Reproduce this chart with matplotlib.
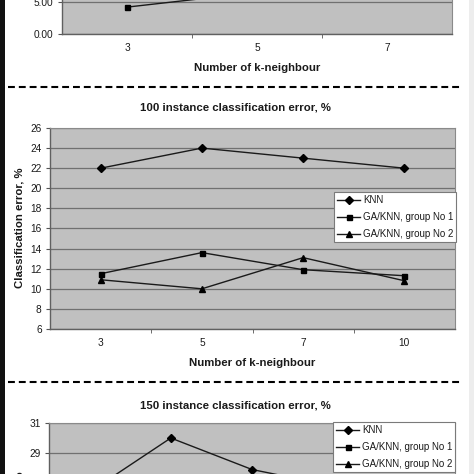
import matplotlib
matplotlib.use('Agg')
import matplotlib.pyplot as plt
from matplotlib.lines import Line2D
from matplotlib.patches import Rectangle

plt.rcParams['font.family'] = ['Liberation Sans', 'DejaVu Sans']

# ---------------- data ----------------
series_names = ['KNN', 'GA/KNN, group No 1', 'GA/KNN, group No 2']

# top (partially visible) chart
top_k = ['3', '5', '7']
top_g1 = [4.2, 6.5, 7.5]
top_yticks = [0, 5, 10, 15]

# middle chart
mid_title = '100 instance classification error, %'
mid_k = ['3', '5', '7', '10']
mid_knn = [22.0, 24.0, 23.0, 22.0]
mid_g1 = [11.5, 13.6, 11.9, 11.3]
mid_g2 = [10.9, 10.0, 13.1, 10.8]
mid_yticks = [6, 8, 10, 12, 14, 16, 18, 20, 22, 24, 26]

# bottom (partially visible) chart
bot_title = '150 instance classification error, %'
bot_k = ['3', '5', '7', '10', '15']
bot_knn = [26.4, 30.0, 27.9, 26.8, 27.0]
bot_g1 = [24.5, 25.0, 24.0, 23.5, 24.0]
bot_g2 = [23.5, 24.0, 25.0, 24.5, 23.0]
bot_yticks = [21, 23, 25, 27, 29, 31]

xlabel = 'Number of k-neighbour'
ylabel = 'Classification error, %'

# ---------------- figure ----------------
W = H = 474
fig = plt.figure(figsize=(W / 100, H / 100), dpi=100)
fig.patch.set_facecolor('white')

BG = '#c0c0c0'
GRID = '#707070'
LINE = '#1a1a1a'
TXT = '#1a1a1a'
markers = ['D', 's', '^']
msizes = [3.8, 3.6, 4.2]


def axes_px(l, t, r, b):
    return fig.add_axes([l / W, 1 - b / H, (r - l) / W, (b - t) / H])


def style(ax, cats, yticks, ylim, fmt=None):
    ax.set_facecolor(BG)
    n = len(cats)
    ax.set_xlim(-0.5, n - 0.5)
    ax.set_ylim(*ylim)
    ax.set_xticks(range(n))
    ax.set_xticklabels(cats)
    ax.set_xticks([i + 0.5 for i in range(n - 1)], minor=True)
    ax.tick_params(axis='x', which='major', length=0, pad=6.5, labelsize=7.3, labelcolor=TXT)
    ax.tick_params(axis='x', which='minor', length=3, direction='out', color='#555555')
    ax.set_yticks(yticks)
    if fmt:
        ax.set_yticklabels([fmt.format(v) for v in yticks])
    ax.tick_params(axis='y', length=3, direction='out', pad=3, labelsize=7.3,
                   labelcolor=TXT, color='#555555')
    ax.yaxis.grid(True, color=GRID, linewidth=0.9)
    ax.set_axisbelow(True)
    for s in ['top', 'right']:
        ax.spines[s].set_color('#8a8a8a')
        ax.spines[s].set_linewidth(0.8)
    for s in ['left', 'bottom']:
        ax.spines[s].set_color('#606060')
        ax.spines[s].set_linewidth(1.0)


def plot_series(ax, cats, vals, i):
    ax.plot(range(len(cats)), vals, color=LINE, linewidth=1.0,
            marker=markers[i], markersize=msizes[i], markerfacecolor='black',
            markeredgecolor='black', label=series_names[i], clip_on=True)


def make_legend(x_left, y_top):
    handles = [Line2D([], [], color=LINE, linewidth=1.0, marker=markers[i],
                      markersize=msizes[i], markerfacecolor='black',
                      markeredgecolor='black') for i in range(3)]
    leg = fig.legend(handles, series_names, loc='upper left',
                     bbox_to_anchor=(x_left / W, 1 - y_top / H),
                     fontsize=7, frameon=True, fancybox=False, framealpha=1,
                     edgecolor='#7a7a7a', handlelength=2.4, handletextpad=0.3,
                     labelspacing=0.72, borderpad=0.3, borderaxespad=0)
    leg.get_frame().set_linewidth(0.8)
    for t in leg.get_texts():
        t.set_color(TXT)
    return leg


tfont = dict(fontsize=8.2, fontweight='bold', color=TXT)

# top chart
ax1 = axes_px(62, -62, 452, 34)
style(ax1, top_k, top_yticks, (0, 15), fmt='{:.2f}')
plot_series(ax1, top_k, top_g1, 1)
fig.text(257 / W, 1 - 68 / H, xlabel, ha='center', va='center', **tfont)

# middle chart
ax2 = axes_px(50, 128, 455, 329)
style(ax2, mid_k, mid_yticks, (6, 26))
plot_series(ax2, mid_k, mid_knn, 0)
plot_series(ax2, mid_k, mid_g1, 1)
plot_series(ax2, mid_k, mid_g2, 2)
fig.text(235 / W, 1 - 108 / H, mid_title, ha='center', va='center', **tfont)
fig.text(252 / W, 1 - 363 / H, xlabel, ha='center', va='center', **tfont)
fig.text(20 / W, 1 - 228 / H, ylabel, ha='center', va='center', rotation=90, **tfont)
make_legend(334, 192)

# bottom chart
ax3 = axes_px(49, 423, 455, 573)
style(ax3, bot_k, bot_yticks, (21, 31))
plot_series(ax3, bot_k, bot_knn, 0)
plot_series(ax3, bot_k, bot_g1, 1)
plot_series(ax3, bot_k, bot_g2, 2)
fig.text(235 / W, 1 - 405 / H, bot_title, ha='center', va='center', **tfont)
fig.text(20 / W, 1 - 471 / H, ylabel, ha='center', va='top', rotation=90, **tfont)
make_legend(333, 422)

# dashed separators
for y in [87, 382]:
    fig.add_artist(Line2D([8 / W, 463 / W], [1 - y / H, 1 - y / H], color='black',
                          linewidth=1.5, linestyle=(0, (3.3, 1.9)),
                          transform=fig.transFigure))

# side strips of the scanned page
fig.add_artist(Rectangle((0, 0), 5 / W, 1, transform=fig.transFigure,
                         facecolor='#111111', edgecolor='none'))
fig.add_artist(Rectangle((469 / W, 0), 5 / W, 1, transform=fig.transFigure,
                         facecolor='#ededed', edgecolor='none'))

fig.savefig('out.png', dpi=100)
